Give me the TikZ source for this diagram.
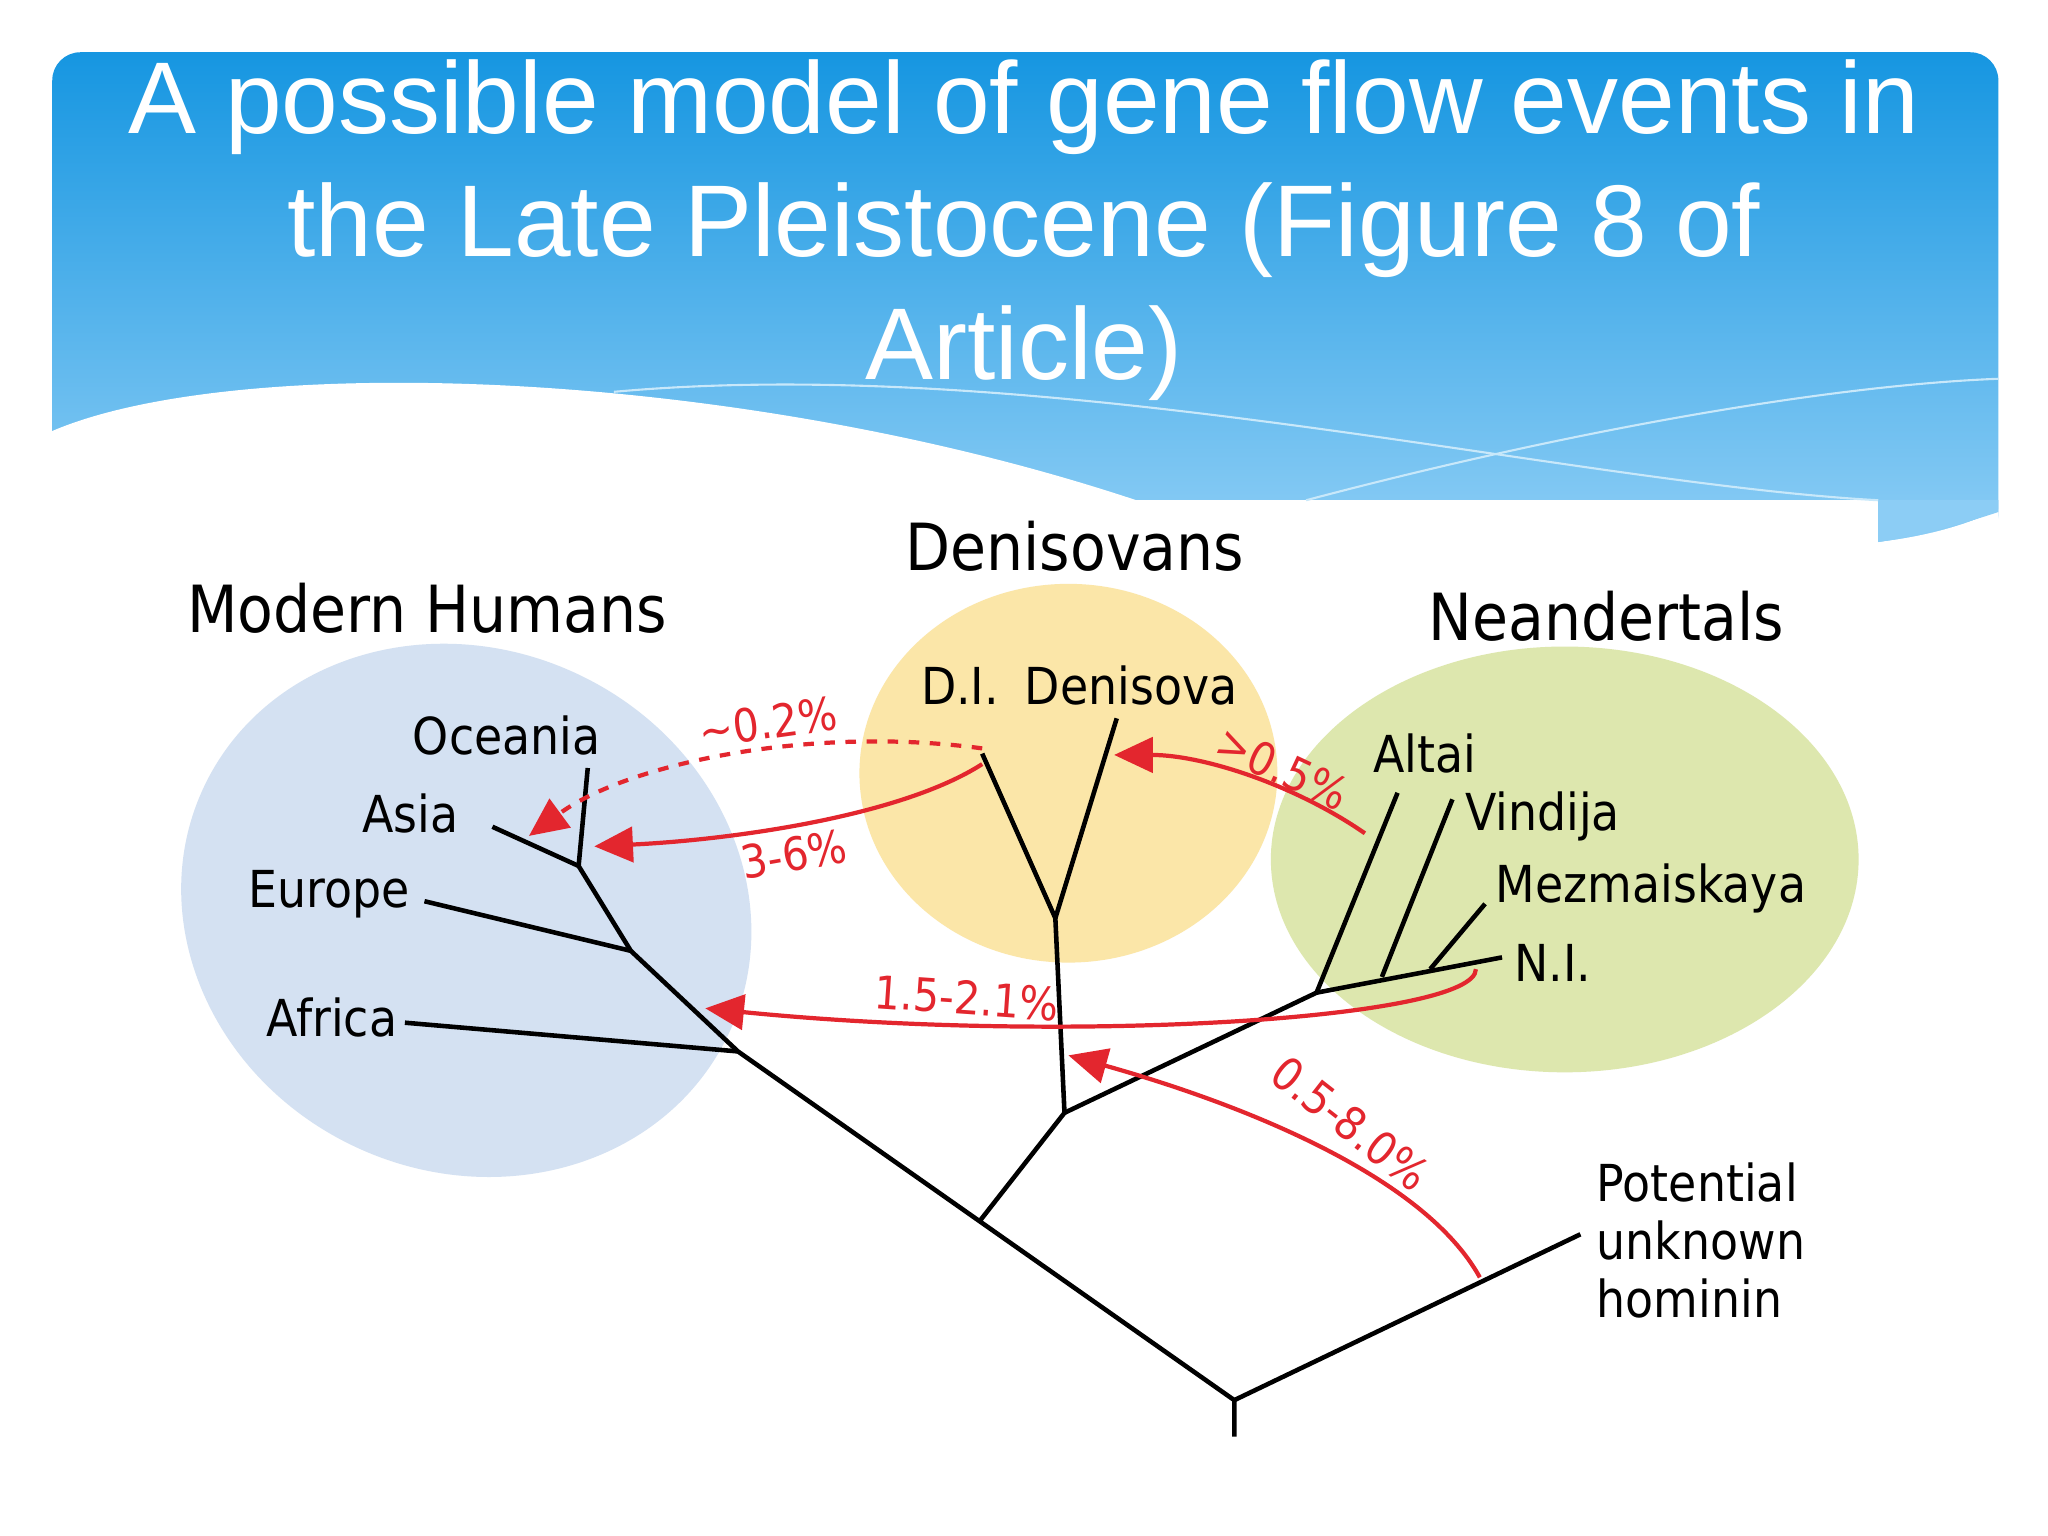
\documentclass[tikz,border=0pt]{standalone}
\usepackage{fontspec}
\setmainfont{Liberation Sans}
\newfontfamily\lab[FakeStretch=0.9]{DejaVu Sans}
\usetikzlibrary{arrows.meta}
\definecolor{redA}{HTML}{E3262E}
\definecolor{hTop}{RGB}{22,150,225}
\definecolor{hBot}{RGB}{140,205,245}
\definecolor{eBlue}{RGB}{212,225,242}
\definecolor{eYel}{RGB}{251,230,168}
\definecolor{eGrn}{RGB}{221,231,174}
\definecolor{wLine}{RGB}{200,232,250}
\begin{document}
\begin{tikzpicture}[x=0.013061cm,y=-0.013061cm,
  br/.style={line width=1.3pt,black},
  gf/.style={redA,line width=1.2pt,-{Triangle[length=11pt,width=10pt]}},
  big/.style={font=\lab\fontsize{18.5}{22}\selectfont},
  sm/.style={font=\lab\fontsize{14.5}{20}\selectfont},
  pc/.style={font=\lab\fontsize{13}{16}\selectfont,text=redA,inner sep=1pt}]
\useasboundingbox (0,0) rectangle (1568,1176);
\fill[white] (0,0) rectangle (1568,1176);
% header
\shade[top color=hTop,bottom color=hBot,rounded corners=8]
 (40,415) -- (40,40) -- (1530,40) -- (1530,415) -- cycle;
\fill[white] (40,330) .. controls (180,270) and (560,280) .. (870,383) -- (1438,383) -- (1438,415) .. controls (1480,410) and (1510,400) .. (1530,390) -- (1530,1176) -- (40,1176) -- cycle;
\fill[hBot] (1438,383) -- (1530,383) -- (1530,392) .. controls (1500,402) and (1470,410) .. (1438,415) -- cycle;
\draw[wLine,line width=0.6pt] (470,300) .. controls (800,270) and (1200,370) .. (1438,383);
\draw[wLine,line width=0.6pt] (1000,383) .. controls (1200,330) and (1400,295) .. (1530,290);
\node[font=\fontsize{29}{35}\selectfont,text=white,align=center] (title) at (784,176)
 {A possible model of gene flow events in\\the Late Pleistocene (Figure 8 of\\Article)};
% ellipses
\fill[eBlue] (357,697) ellipse[x radius=222,y radius=200,rotate=-25];
\fill[eYel] (818,592) ellipse[x radius=160,y radius=145];
\fill[eGrn] (1198,658) ellipse[x radius=225,y radius=163];
% tree coordinates
\coordinate (root) at (945,1100);
\coordinate (r0) at (945,1072);
\coordinate (pu) at (1210,945);
\coordinate (b1) at (750,935);
\coordinate (af) at (565,805);
\coordinate (eu) at (483,728);
\coordinate (as) at (443,663);
\coordinate (afT) at (310,783);
\coordinate (euT) at (325,690);
\coordinate (asT) at (377,633);
\coordinate (ocT) at (450,588);
\coordinate (dn) at (815,852);
\coordinate (dd) at (808,703);
\coordinate (diT) at (752,577);
\coordinate (deT) at (855,550);
\coordinate (ne) at (1008,760);
\coordinate (vi) at (1058,748);
\coordinate (me) at (1095,742);
\coordinate (alT) at (1070,607);
\coordinate (viT) at (1112,612);
\coordinate (meT) at (1137,692);
\coordinate (niT) at (1150,733);
\draw[br] (root) -- (r0) -- (pu);
\draw[br] (r0) -- (b1) -- (af) -- (eu) -- (as) -- (ocT);
\draw[br] (af) -- (afT); \draw[br] (eu) -- (euT); \draw[br] (as) -- (asT);
\draw[br] (b1) -- (dn) -- (dd) -- (diT); \draw[br] (dd) -- (deT);
\draw[br] (dn) -- (ne) -- (alT); \draw[br] (ne) -- (niT);
\draw[br] (vi) -- (viT); \draw[br] (me) -- (meT);
% gene flow
\coordinate (g1s) at (752,573); \coordinate (g1e) at (405,640);
\coordinate (g2s) at (752,585); \coordinate (g2e) at (455,648);
\coordinate (g3s) at (1045,638); \coordinate (g3e) at (853,578);
\coordinate (g4s) at (1130,742); \coordinate (g4e) at (540,772);
\coordinate (g5s) at (1133,978); \coordinate (g5e) at (818,808);
\draw[gf,dashed] (g1s) .. controls (620,555) and (480,585) .. (g1e);
\draw[gf] (g2s) .. controls (690,625) and (560,643) .. (g2e);
\draw[gf] (g3s) .. controls (990,600) and (920,578) .. (g3e);
\draw[gf] (g4s) .. controls (1130,780) and (820,800) .. (g4e);
\draw[gf] (g5s) .. controls (1090,900) and (950,845) .. (g5e);
\node[pc,rotate=8] (p1) at (588,553) {\textasciitilde0.2\%};
\node[pc,rotate=10] (p2) at (608,654) {3-6\%};
\node[pc,rotate=-25] (p3) at (982,588) {>0.5\%};
\node[pc,rotate=-4] (p4) at (740,764) {1.5-2.1\%};
\node[pc,rotate=-38] (p5) at (1034,860) {0.5-8.0\%};
% labels
\node[big] (mh) at (327,466) {Modern Humans};
\node[big] (dv) at (823,418) {Denisovans};
\node[big] (nd) at (1230,472) {Neandertals};
\node[sm] (oc) at (388,563) {Oceania};
\node[sm] (asl) at (314,623) {Asia};
\node[sm] (eul) at (252,685) {Europe};
\node[sm] (afl) at (254,779) {Africa};
\node[sm] (dil) at (735,525) {D.I.};
\node[sm] (del) at (866,525) {Denisova};
\node[sm] (all) at (1091,577) {Altai};
\node[sm] (vil) at (1181,625) {Vindija};
\node[sm] (mel) at (1264,680) {Mezmaiskaya};
\node[sm] (nil) at (1189,737) {N.I.};
\node[anchor=north west,align=left,inner sep=0pt,font=\lab\fontsize{14.5}{16.5}\selectfont] (ph) at (1222,890) {Potential\\unknown\\hominin};
\end{tikzpicture}
\end{document}
